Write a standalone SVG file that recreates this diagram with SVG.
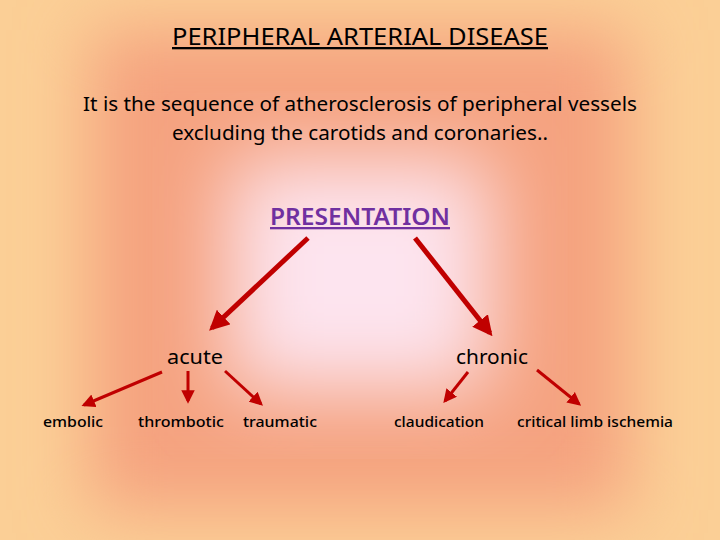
<svg xmlns="http://www.w3.org/2000/svg" width="720" height="540" viewBox="0 0 720 540">
<defs>
<filter id="b1" x="-30%" y="-30%" width="160%" height="160%"><feGaussianBlur stdDeviation="35"/></filter>
<filter id="b2" x="-30%" y="-30%" width="160%" height="160%"><feGaussianBlur stdDeviation="40"/></filter>
<marker id="ah" viewBox="0 0 10 10" refX="8" refY="5" markerWidth="4" markerHeight="4" orient="auto" markerUnits="strokeWidth"><path d="M0,0 L10,5 L0,10 z" fill="#c00000"/></marker>
<marker id="ahs" viewBox="0 0 10 10" refX="8" refY="5" markerWidth="4.5" markerHeight="4.5" orient="auto" markerUnits="strokeWidth"><path d="M0,0 L10,5 L0,10 z" fill="#c00000"/></marker>
</defs>
<style>
text{font-family:"Noto Sans","Open Sans",sans-serif;fill:#000}
.big{stroke:#c00000;stroke-width:5;fill:none;marker-end:url(#ah)}
.sm{stroke:#c00000;stroke-width:3;fill:none;marker-end:url(#ahs)}
.lab{font-size:15px;font-weight:500}
</style>
<rect width="720" height="540" fill="#fbcf96"/>
<rect x="90" y="30" width="540" height="480" fill="#f5a27f" filter="url(#b1)"/>
<rect x="230" y="160" width="260" height="230" fill="#fde4ef" filter="url(#b2)"/>
<text x="360" y="45" text-anchor="middle" font-size="23" textLength="376" lengthAdjust="spacingAndGlyphs" text-decoration="underline">PERIPHERAL ARTERIAL DISEASE</text>
<text x="360" y="111" text-anchor="middle" font-size="20" textLength="554" lengthAdjust="spacingAndGlyphs">It is the sequence of atherosclerosis of peripheral vessels</text>
<text x="360" y="140" text-anchor="middle" font-size="20" textLength="376" lengthAdjust="spacingAndGlyphs">excluding the carotids and coronaries..</text>
<g id="presentation"><text x="360" y="225" text-anchor="middle" font-size="23" font-weight="600" textLength="180" lengthAdjust="spacingAndGlyphs" style="fill:#7030a0" text-decoration="underline">PRESENTATION</text></g>
<g id="acute"><text x="195" y="364" text-anchor="middle" font-size="20" textLength="56" lengthAdjust="spacingAndGlyphs">acute</text></g>
<g id="chronic"><text x="492" y="364" text-anchor="middle" font-size="20" textLength="72" lengthAdjust="spacingAndGlyphs">chronic</text></g>
<g id="embolic"><text x="73" y="427" text-anchor="middle" class="lab" textLength="60" lengthAdjust="spacingAndGlyphs">embolic</text></g>
<g id="thrombotic"><text x="181" y="427" text-anchor="middle" class="lab" textLength="86" lengthAdjust="spacingAndGlyphs">thrombotic</text></g>
<g id="traumatic"><text x="280" y="427" text-anchor="middle" class="lab" textLength="74" lengthAdjust="spacingAndGlyphs">traumatic</text></g>
<g id="claudication"><text x="439" y="427" text-anchor="middle" class="lab" textLength="90" lengthAdjust="spacingAndGlyphs">claudication</text></g>
<g id="cli"><text x="595" y="427" text-anchor="middle" class="lab" textLength="156" lengthAdjust="spacingAndGlyphs">critical limb ischemia</text></g>
<g id="connectors">
<line class="big" x1="308" y1="238" x2="212" y2="328"/>
<line class="big" x1="415" y1="238" x2="490" y2="333"/>
<line class="sm" x1="162" y1="372" x2="84" y2="405"/>
<line class="sm" x1="188" y1="371" x2="188" y2="401"/>
<line class="sm" x1="225" y1="371" x2="261" y2="404"/>
<line class="sm" x1="468" y1="372" x2="445" y2="401"/>
<line class="sm" x1="537" y1="370" x2="579" y2="404"/>
</g>
</svg>
